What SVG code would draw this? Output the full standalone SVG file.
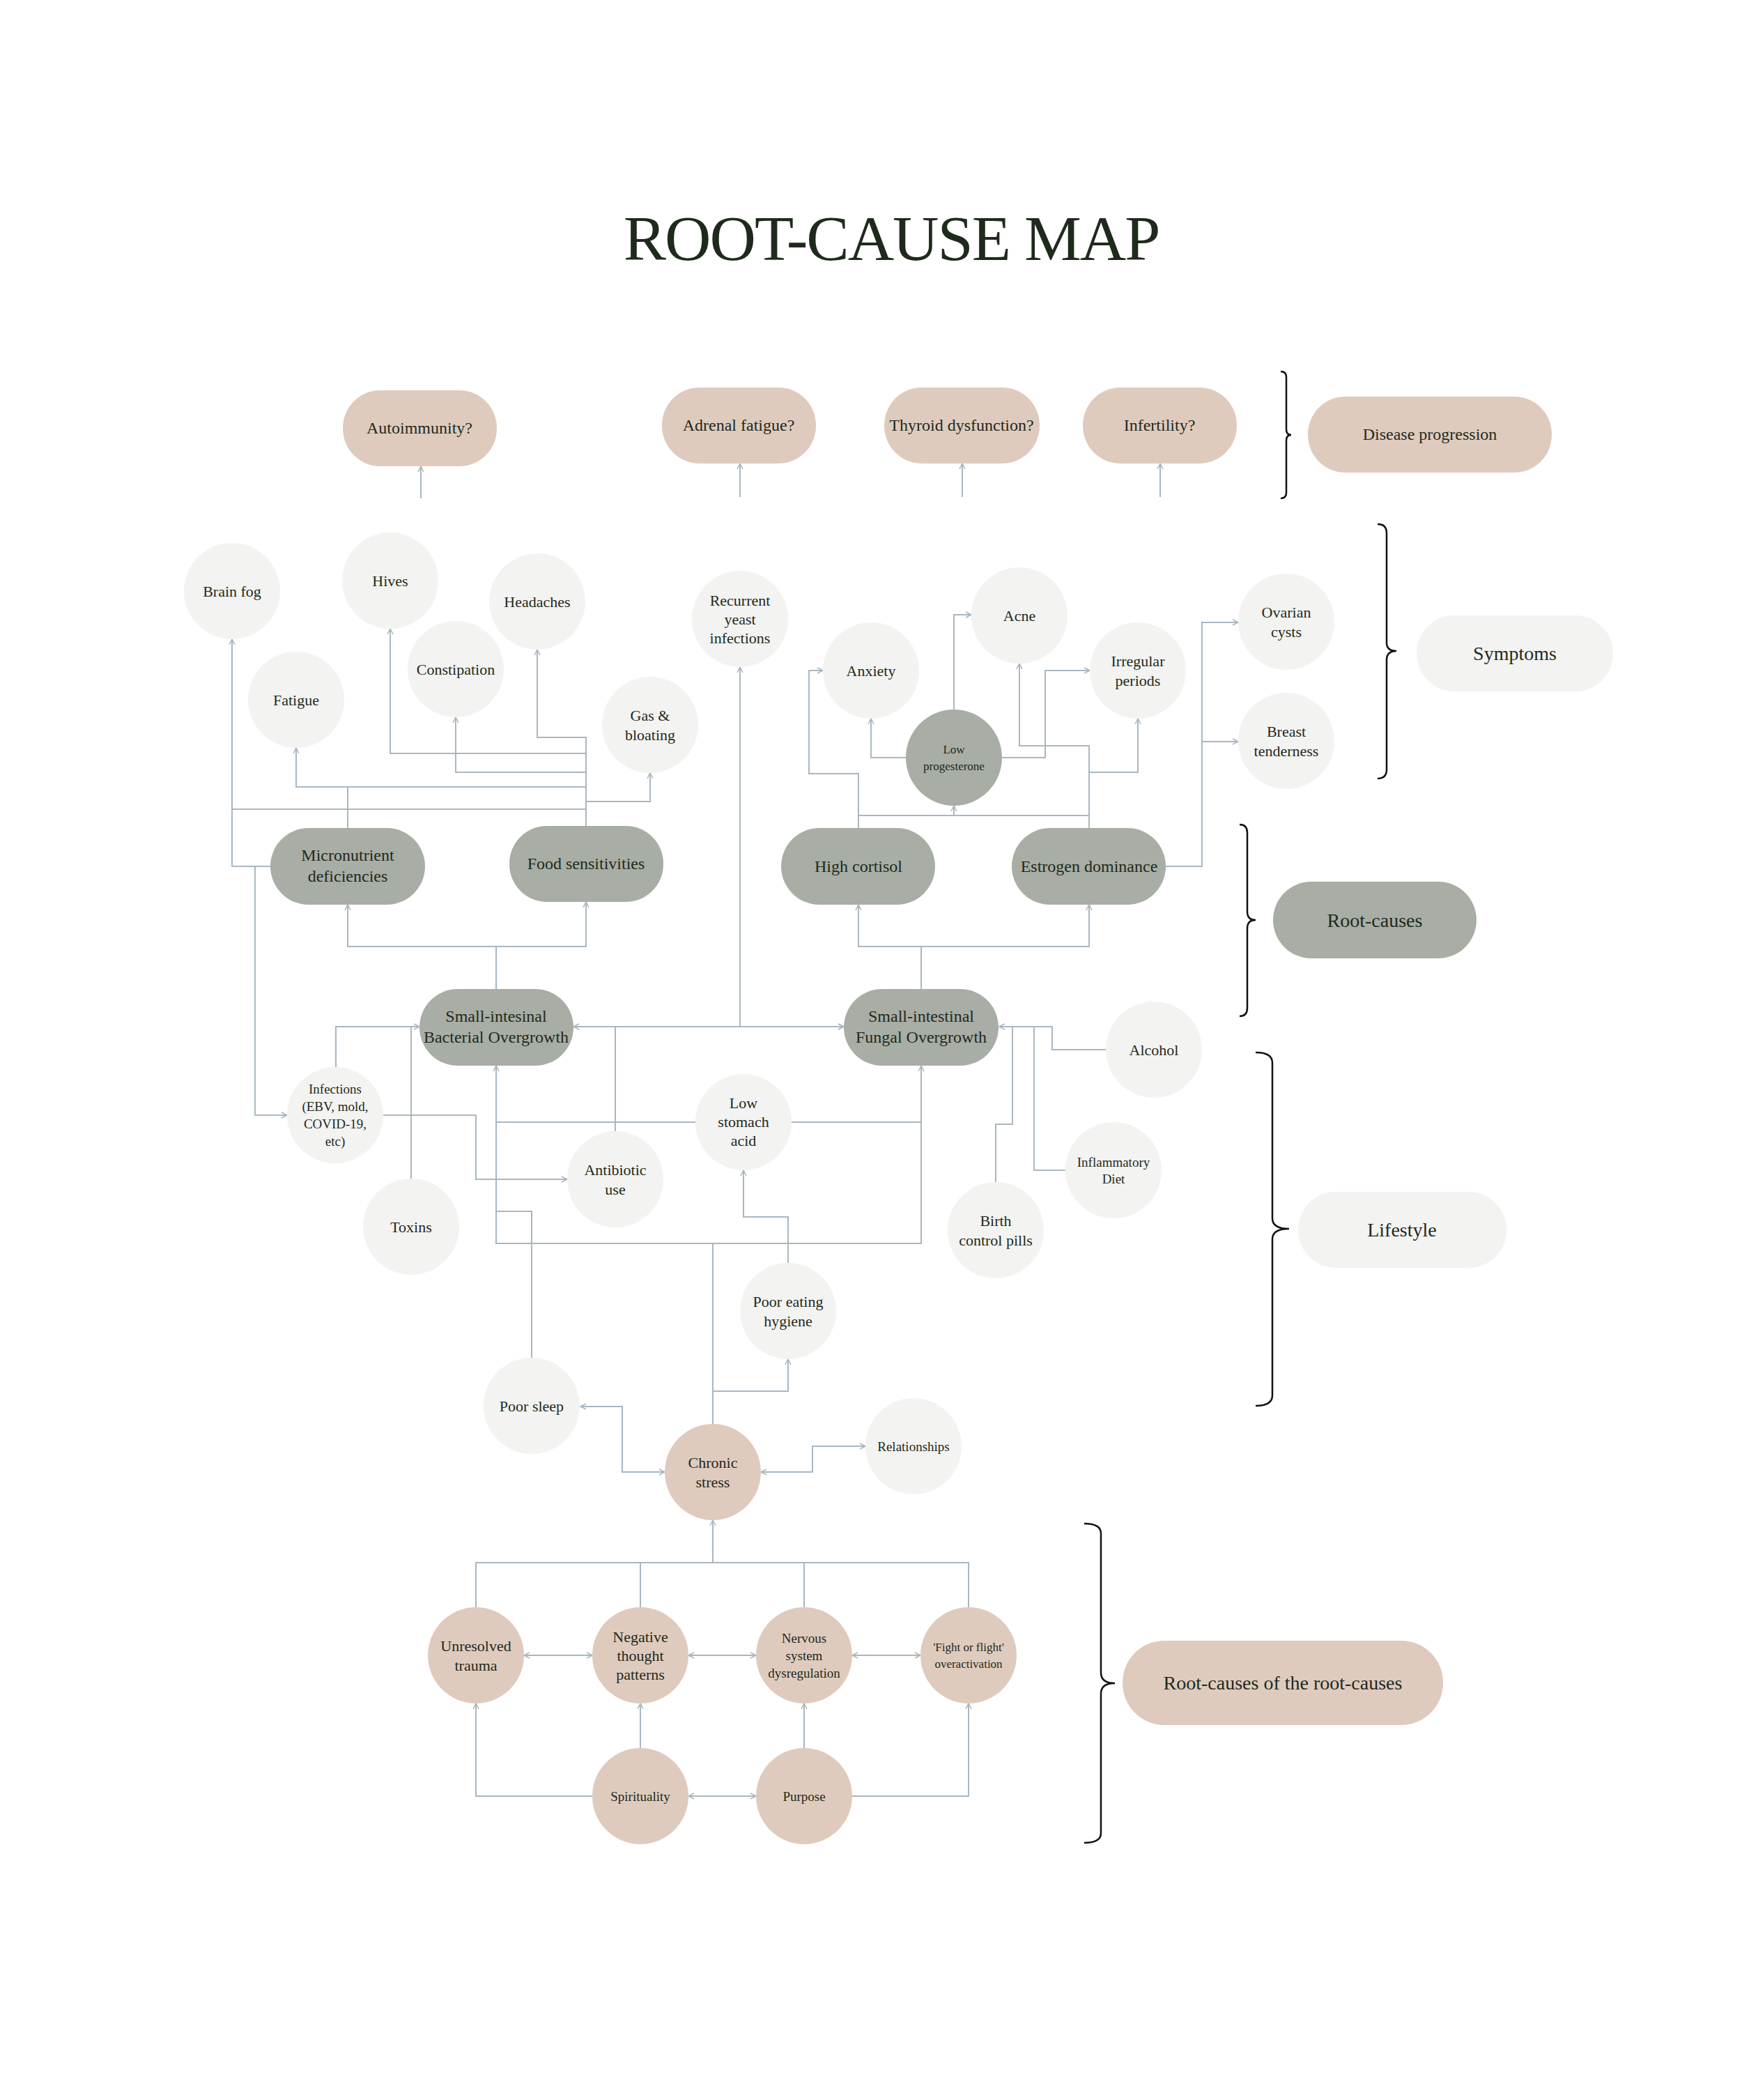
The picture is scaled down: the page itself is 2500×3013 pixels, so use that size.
<svg xmlns="http://www.w3.org/2000/svg" width="2500" height="3013" viewBox="0 0 2500 3013">
<style>
text{font-family:"Liberation Serif",serif;fill:#1e2a1c;text-anchor:middle;dominant-baseline:central}
.t{font-size:22px}.p{font-size:24px}.l{font-size:28px}
.b{fill:#dfcbbe}.g{fill:#a8ada5}.w{fill:#f3f3f1}
.c path{fill:none;stroke:#a9b7c1;stroke-width:2}
.a{marker-end:url(#ar)}.d{marker-end:url(#ar);marker-start:url(#ar)}
.br{fill:none;stroke:#111;stroke-width:2.5}
</style>
<defs><marker id="ar" markerUnits="userSpaceOnUse" markerWidth="12" markerHeight="12" refX="9" refY="5" orient="auto-start-reverse"><path d="M1,1 L9,5 L1,9" fill="none" stroke="#a9b7c1" stroke-width="1.6"/></marker></defs>
<rect width="2500" height="3013" fill="#fff"/>
<text x="1279" y="342" style="font-size:92px;letter-spacing:-2px">ROOT-CAUSE MAP</text>

<g class="c">
<path class="a" d="M604,715 V669"/><path class="a" d="M1062,713 V665"/><path class="a" d="M1381,713 V665"/><path class="a" d="M1665,713 V665"/>
<path class="a" d="M841,1185 V1058 H771 V932"/>
<path class="a" d="M841,1185 V1081 H560 V902"/>
<path class="a" d="M841,1185 V1108 H654 V1029"/>
<path class="a" d="M841,1185 V1129 H425 V1073"/>
<path d="M499,1188 V1129"/>
<path class="a" d="M841,1185 V1161 H333 V917"/>
<path d="M388,1243 H333 V1161"/>
<path class="a" d="M841,1185 V1150 H933 V1109"/>
<path class="a" d="M388,1243 H366 V1600 H412"/>
<path class="a" d="M712,1419 V1358 H499 V1298"/>
<path class="a" d="M712,1419 V1358 H841 V1294"/>
<path class="a" d="M1322,1419 V1358 H1232 V1298"/>
<path class="a" d="M1322,1419 V1358 H1563 V1298"/>
<path class="d" d="M1211,1473 H1062 V957"/>
<path class="a" d="M883,1623 V1473 H823"/>
<path class="a" d="M883,1473 H1211"/>
<path class="a" d="M482,1531 V1473 H602"/>
<path class="a" d="M550,1600 H683 V1692 H814"/>
<path d="M590,1691 V1473"/>
<path class="a" d="M998,1610 H712 V1529"/>
<path class="a" d="M1136,1610 H1322 V1529"/>
<path class="a" d="M1131,1812 V1746 H1067 V1679"/>
<path d="M1023,2043 V1784 H712 V1529"/>
<path d="M1023,1784 H1322 V1529"/>
<path d="M763,1948 V1738 H712"/>
<path class="a" d="M1023,2043 V1996 H1131 V1950"/>
<path class="d" d="M954,2112 H893 V2018 H833"/>
<path class="d" d="M1092,2112 H1166 V2075 H1242"/>
<path class="a" d="M1587,1506 H1510 V1473 H1434"/>
<path d="M1529,1679 H1484 V1473"/>
<path d="M1429,1696 V1613 H1453 V1473"/>
<path d="M1232,1188 V1170 H1563 V1188"/>
<path class="a" d="M1369,1170 V1156"/>
<path class="a" d="M1232,1188 V1110 H1161 V962 H1181"/>
<path class="a" d="M1300,1087 H1250 V1031"/>
<path class="a" d="M1369,1018 V882 H1394"/>
<path class="a" d="M1438,1087 H1500 V962 H1564"/>
<path class="a" d="M1563,1188 V1070 H1463 V952"/>
<path class="a" d="M1563,1108 H1633 V1031"/>
<path class="a" d="M1673,1243 H1725 V893 H1777"/>
<path class="a" d="M1725,1064 H1777"/>
<path class="a" d="M1023,2242 V2181"/>
<path d="M683,2306 V2242 H1390 V2306 M919,2242 V2306 M1154,2242 V2306"/>
<path class="d" d="M752,2375 H850"/><path class="d" d="M988,2375 H1085"/><path class="d" d="M1223,2375 H1321"/>
<path class="a" d="M919,2508 V2444"/><path class="a" d="M1154,2508 V2444"/>
<path class="a" d="M850,2577 H683 V2444"/>
<path class="d" d="M988,2577 H1085"/>
<path class="a" d="M1223,2577 H1390 V2444"/>
</g>

<g id="braces">
<path class="br" d="M1838,533 Q1846,533 1846,541 V616 Q1846,624 1853,624 Q1846,624 1846,632 V707 Q1846,715 1838,715"/>
<path class="br" d="M1977,752 Q1990,752 1990,765 V922 Q1990,934 2004,934 Q1990,934 1990,947 V1104 Q1990,1117 1977,1117"/>
<path class="br" d="M1779,1183 Q1790,1183 1790,1195 V1308 Q1790,1320 1802,1320 Q1790,1320 1790,1332 V1446 Q1790,1458 1779,1458"/>
<path class="br" d="M1802,1510 Q1826,1510 1826,1525 V1748 Q1826,1763 1850,1763 Q1826,1763 1826,1778 V2002 Q1826,2017 1802,2017"/>
<path class="br" d="M1556,2186 Q1580,2186 1580,2200 V2400 Q1580,2415 1600,2415 Q1580,2415 1580,2430 V2630 Q1580,2644 1556,2644"/>
</g>

<g id="autoimmunity"><rect class="b" x="492" y="560" width="221" height="109" rx="54"/><text class="p" x="602" y="614">Autoimmunity?</text></g>
<g id="adrenal"><rect class="b" x="950" y="556" width="221" height="109" rx="54"/><text class="p" x="1060" y="610">Adrenal fatigue?</text></g>
<g id="thyroid"><rect class="b" x="1269" y="556" width="223" height="109" rx="54"/><text class="p" x="1380" y="610">Thyroid dysfunction?</text></g>
<g id="infertility"><rect class="b" x="1554" y="556" width="221" height="109" rx="54"/><text class="p" x="1664" y="610">Infertility?</text></g>
<g id="disease"><rect class="b" x="1877" y="569" width="350" height="109" rx="54"/><text class="p" x="2052" y="623">Disease progression</text></g>
<g id="symptoms"><rect class="w" x="2033" y="883" width="282" height="109" rx="54"/><text class="l" x="2174" y="937">Symptoms</text></g>
<g id="rootcauses"><rect class="g" x="1827" y="1265" width="292" height="110" rx="55"/><text class="l" x="1973" y="1320">Root-causes</text></g>
<g id="lifestyle"><rect class="w" x="1863" y="1710" width="299" height="109" rx="54"/><text class="l" x="2012" y="1764">Lifestyle</text></g>
<g id="rootroot"><rect class="b" x="1611" y="2354" width="460" height="121" rx="60"/><text class="l" x="1841" y="2414">Root-causes of the root-causes</text></g>

<g id="brainfog"><circle class="w" cx="333" cy="848" r="69"/><text class="t" x="333" y="848">Brain fog</text></g>
<g id="hives"><circle class="w" cx="560" cy="833" r="69"/><text class="t" x="560" y="833">Hives</text></g>
<g id="headaches"><circle class="w" cx="771" cy="863" r="69"/><text class="t" x="771" y="863">Headaches</text></g>
<g id="constipation"><circle class="w" cx="654" cy="960" r="69"/><text class="t" x="654" y="960">Constipation</text></g>
<g id="fatigue"><circle class="w" cx="425" cy="1004" r="69"/><text class="t" x="425" y="1004">Fatigue</text></g>
<g id="gas"><circle class="w" cx="933" cy="1040" r="69"/><text class="t" x="933" y="1026">Gas &amp;</text><text class="t" x="933" y="1054">bloating</text></g>
<g id="yeast"><circle class="w" cx="1062" cy="888" r="69"/><text class="t" x="1062" y="861">Recurrent</text><text class="t" x="1062" y="888">yeast</text><text class="t" x="1062" y="915">infections</text></g>
<g id="anxiety"><circle class="w" cx="1250" cy="962" r="69"/><text class="t" x="1250" y="962">Anxiety</text></g>
<g id="acne"><circle class="w" cx="1463" cy="883" r="69"/><text class="t" x="1463" y="883">Acne</text></g>
<g id="irregular"><circle class="w" cx="1633" cy="962" r="69"/><text class="t" x="1633" y="948">Irregular</text><text class="t" x="1633" y="976">periods</text></g>
<g id="ovarian"><circle class="w" cx="1846" cy="892" r="69"/><text class="t" x="1846" y="878">Ovarian</text><text class="t" x="1846" y="906">cysts</text></g>
<g id="breast"><circle class="w" cx="1846" cy="1063" r="69"/><text class="t" x="1846" y="1049">Breast</text><text class="t" x="1846" y="1077">tenderness</text></g>
<g id="lowprog"><circle class="g" cx="1369" cy="1087" r="69"/><text x="1369" y="1075" style="font-size:17px">Low</text><text x="1369" y="1099" style="font-size:17px">progesterone</text></g>

<g id="micro"><rect class="g" x="388" y="1188" width="222" height="110" rx="55"/><text class="p" x="499" y="1227">Micronutrient</text><text class="p" x="499" y="1257">deficiencies</text></g>
<g id="food"><rect class="g" x="731" y="1185" width="221" height="109" rx="54"/><text class="p" x="841" y="1239">Food sensitivities</text></g>
<g id="cortisol"><rect class="g" x="1121" y="1188" width="221" height="110" rx="55"/><text class="p" x="1232" y="1243">High cortisol</text></g>
<g id="estrogen"><rect class="g" x="1452" y="1188" width="221" height="110" rx="55"/><text class="p" x="1563" y="1243">Estrogen dominance</text></g>
<g id="sibo"><rect class="g" x="602" y="1419" width="221" height="110" rx="55"/><text class="p" x="712" y="1458">Small-intesinal</text><text class="p" x="712" y="1488">Bacterial Overgrowth</text></g>
<g id="sifo"><rect class="g" x="1211" y="1419" width="222" height="110" rx="55"/><text class="p" x="1322" y="1458">Small-intestinal</text><text class="p" x="1322" y="1488">Fungal Overgrowth</text></g>

<g id="infections"><circle class="w" cx="481" cy="1600" r="69"/><text x="481" y="1562" style="font-size:19px">Infections</text><text x="481" y="1587" style="font-size:19px">(EBV, mold,</text><text x="481" y="1612" style="font-size:19px">COVID-19,</text><text x="481" y="1637" style="font-size:19px">etc)</text></g>
<g id="toxins"><circle class="w" cx="590" cy="1760" r="69"/><text class="t" x="590" y="1760">Toxins</text></g>
<g id="antibiotic"><circle class="w" cx="883" cy="1692" r="69"/><text class="t" x="883" y="1678">Antibiotic</text><text class="t" x="883" y="1706">use</text></g>
<g id="stomach"><circle class="w" cx="1067" cy="1610" r="69"/><text class="t" x="1067" y="1582">Low</text><text class="t" x="1067" y="1609">stomach</text><text class="t" x="1067" y="1636">acid</text></g>
<g id="alcohol"><circle class="w" cx="1656" cy="1506" r="69"/><text class="t" x="1656" y="1506">Alcohol</text></g>
<g id="inflam"><circle class="w" cx="1598" cy="1679" r="69"/><text x="1598" y="1667" style="font-size:19px">Inflammatory</text><text x="1598" y="1691" style="font-size:19px">Diet</text></g>
<g id="birth"><circle class="w" cx="1429" cy="1765" r="69"/><text class="t" x="1429" y="1751">Birth</text><text class="t" x="1429" y="1779">control pills</text></g>
<g id="eating"><circle class="w" cx="1131" cy="1881" r="69"/><text class="t" x="1131" y="1867">Poor eating</text><text class="t" x="1131" y="1895">hygiene</text></g>
<g id="sleep"><circle class="w" cx="763" cy="2017" r="69"/><text class="t" x="763" y="2017">Poor sleep</text></g>
<g id="stress"><circle class="b" cx="1023" cy="2112" r="69"/><text class="t" x="1023" y="2098">Chronic</text><text class="t" x="1023" y="2126">stress</text></g>
<g id="relationships"><circle class="w" cx="1311" cy="2075" r="69"/><text x="1311" y="2075" style="font-size:19px">Relationships</text></g>

<g id="trauma"><circle class="b" cx="683" cy="2375" r="69"/><text class="t" x="683" y="2361">Unresolved</text><text class="t" x="683" y="2389">trauma</text></g>
<g id="negative"><circle class="b" cx="919" cy="2375" r="69"/><text class="t" x="919" y="2348">Negative</text><text class="t" x="919" y="2375">thought</text><text class="t" x="919" y="2402">patterns</text></g>
<g id="nervous"><circle class="b" cx="1154" cy="2375" r="69"/><text x="1154" y="2350" style="font-size:19px">Nervous</text><text x="1154" y="2375" style="font-size:19px">system</text><text x="1154" y="2400" style="font-size:19px">dysregulation</text></g>
<g id="fight"><circle class="b" cx="1390" cy="2375" r="69"/><text x="1390" y="2363" style="font-size:17px">'Fight or flight'</text><text x="1390" y="2387" style="font-size:17px">overactivation</text></g>
<g id="spirituality"><circle class="b" cx="919" cy="2577" r="69"/><text x="919" y="2577" style="font-size:19px">Spirituality</text></g>
<g id="purpose"><circle class="b" cx="1154" cy="2577" r="69"/><text x="1154" y="2577" style="font-size:19px">Purpose</text></g>
</svg>
